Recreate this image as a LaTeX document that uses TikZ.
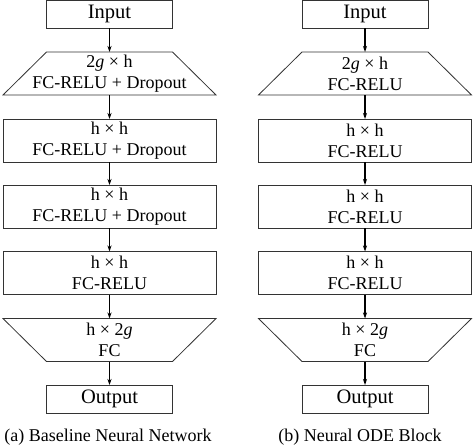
\documentclass[tikz,border=0pt]{standalone}
\usepackage{fontspec}
\setmainfont{Liberation Serif}
\usetikzlibrary{arrows.meta}

\begin{document}
\begin{tikzpicture}[x=1pt,y=-1pt,
  every node/.style={font=\fontsize{18}{21}\selectfont, align=center, inner sep=0pt, outer sep=0pt},
  io/.style={draw=black!80, line width=0.8pt, minimum width=126pt, minimum height=28pt, font=\fontsize{20.5}{24}\selectfont},
  layer/.style={draw=black!80, line width=0.8pt, minimum width=213pt, minimum height=43pt},
  slab/.style={minimum width=213pt, minimum height=43pt},
  edge/.style={draw=black!80, line width=0.8pt},
  flow/.style={-{Stealth[length=6pt,width=4pt]}, line width=1.2pt}]
\useasboundingbox (0,0) rectangle (474,445);
%Baseline network
\node[io] (inA) at (109.5,14) {Input};
\node[slab] (fc1A) at (109.5,73.5) {2\textit{g} × h\\FC-RELU + Dropout};
\node[layer] (fc2A) at (109.5,140.5) {h × h\\FC-RELU + Dropout};
\node[layer] (fc3A) at (109.5,206.5) {h × h\\FC-RELU + Dropout};
\node[layer] (fc4A) at (109.5,273) {h × h\\FC-RELU};
\node[slab] (fc5A) at (109.5,340) {h × 2\textit{g}\\FC};
\node[io] (outA) at (109.5,399) {Output};
\node[anchor=base] (capA) at (108,441) {(a) Baseline Neural Network};
\draw[edge] ([xshift=43.5pt]fc1A.north west) -- ([xshift=-43.5pt]fc1A.north east)
  -- (fc1A.south east) -- (fc1A.south west) -- cycle;
\draw[edge] (fc5A.north west) -- (fc5A.north east)
  -- ([xshift=-43.5pt]fc5A.south east) -- ([xshift=43.5pt]fc5A.south west) -- cycle;
\draw[flow] (inA) -- (fc1A);
\draw[flow] (fc1A) -- (fc2A);
\draw[flow] (fc2A) -- (fc3A);
\draw[flow] (fc3A) -- (fc4A);
\draw[flow] (fc4A) -- (fc5A);
\draw[flow] (fc5A) -- (outA);
%Neural ODE block
\node[io] (inB) at (365,14) {Input};
\node[slab] (fc1B) at (365,73.5) {2\textit{g} × h\\FC-RELU};
\node[layer] (fc2B) at (365,140.5) {h × h\\FC-RELU};
\node[layer] (fc3B) at (365,206.5) {h × h\\FC-RELU};
\node[layer] (fc4B) at (365,273) {h × h\\FC-RELU};
\node[slab] (fc5B) at (365,340) {h × 2\textit{g}\\FC};
\node[io] (outB) at (365,399) {Output};
\node[anchor=base] (capB) at (360,441) {(b) Neural ODE Block};
\draw[edge] ([xshift=43.5pt]fc1B.north west) -- ([xshift=-43.5pt]fc1B.north east)
  -- (fc1B.south east) -- (fc1B.south west) -- cycle;
\draw[edge] (fc5B.north west) -- (fc5B.north east)
  -- ([xshift=-43.5pt]fc5B.south east) -- ([xshift=43.5pt]fc5B.south west) -- cycle;
\draw[flow] (inB) -- (fc1B);
\draw[flow] (fc1B) -- (fc2B);
\draw[flow] (fc2B) -- (fc3B);
\draw[flow] (fc3B) -- (fc4B);
\draw[flow] (fc4B) -- (fc5B);
\draw[flow] (fc5B) -- (outB);
\end{tikzpicture}
\end{document}
